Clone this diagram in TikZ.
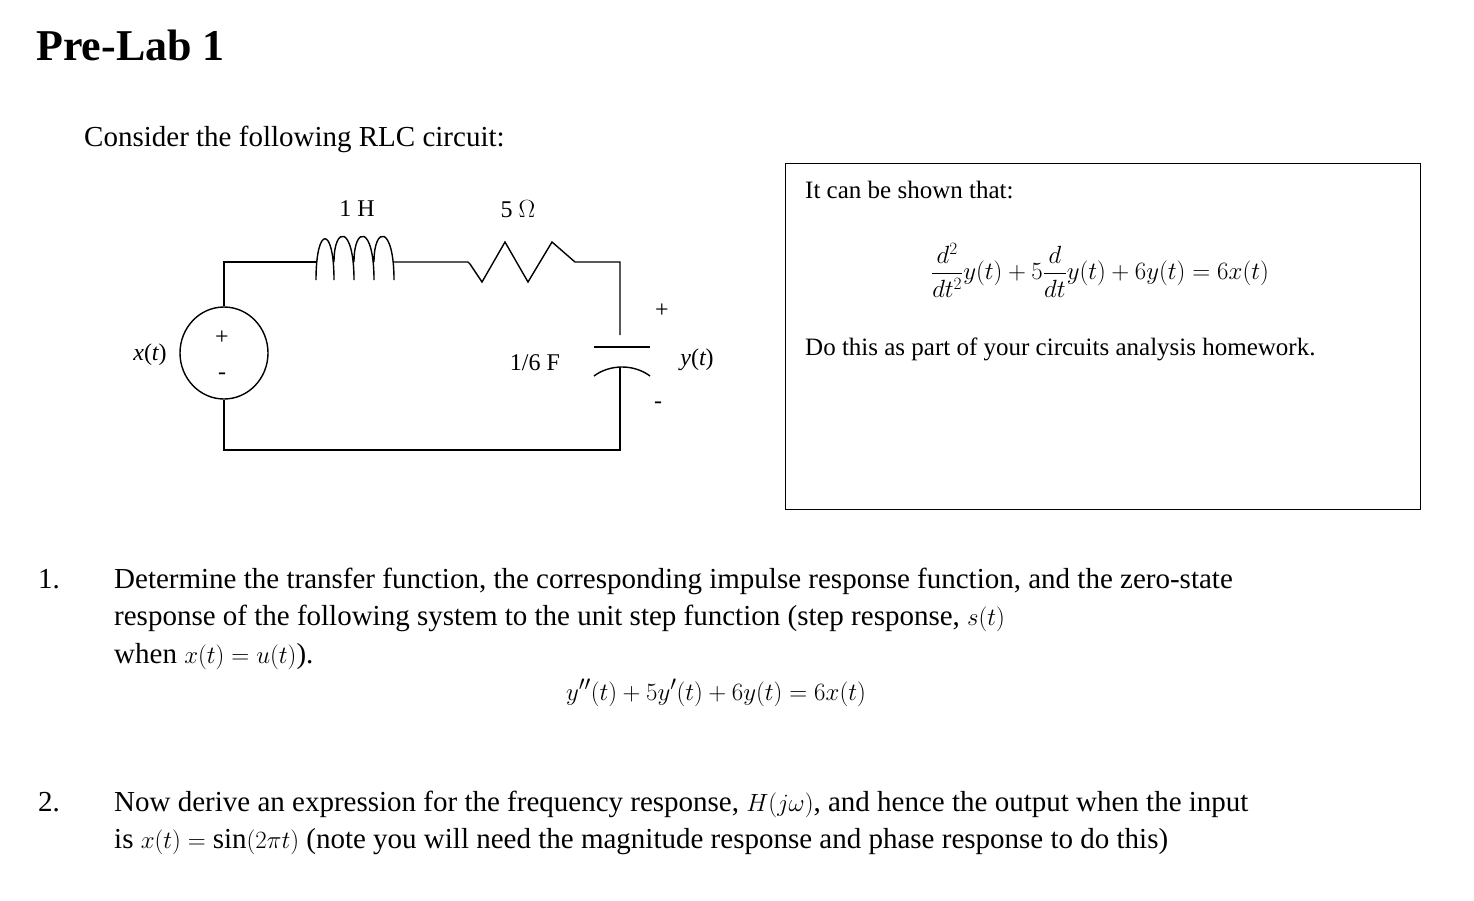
\documentclass[tikz,border=0pt]{standalone}
\usetikzlibrary{shapes.geometric}
\usepackage{amsmath}
\usepackage{fontspec}
\setmainfont{Liberation Serif}
\begin{document}
\begin{tikzpicture}[x=1pt,y=-1pt,
  txt/.style={anchor=base west,inner sep=0pt,font=\fontsize{29}{34}\selectfont},
  sm/.style={inner sep=0pt,font=\fontsize{24}{28}\selectfont},
  w/.style={line width=1.4pt}]
\useasboundingbox (0,0) rectangle (1474,900);
\node[anchor=base west,inner sep=0pt,font=\fontsize{44}{50}\selectfont\bfseries] (title) at (36,60) {Pre-Lab 1};
\node[txt] (cons) at (84,146) {Consider the following RLC circuit:};
% circuit
\node[draw,w,ellipse,minimum width=88,minimum height=92,inner sep=0pt] (src) at (224,353) {};
\node[sm] (sp) at (222,338) {+};
\node[sm] (sm) at (222,376) {-};
\node[sm] (xl) at (150,355) {\itshape x\upshape(\itshape t\upshape)};
\coordinate (tl) at (224,262);
\coordinate (bl) at (224,450);
\coordinate (br) at (620,450);
\coordinate (tr) at (620,262);
\draw[w] (src.north) -- (tl) -- (280,262) -- (316,262);
\draw[w] (316,280) .. controls (316,225) and (334,225) .. (334,280)
  (334,262) .. controls (334,225) and (354,225) .. (354,280)
  (354,262) .. controls (354,225) and (374,225) .. (374,280)
  (374,262) .. controls (374,225) and (394,225) .. (394,280);
\draw[w] (394,262) -- (468,262) -- (470,264) -- (482,282) -- (505,242) -- (528,282) -- (552,242) -- (575,262) -- (585,262) -- (tr) -- (620,335);
\draw[w] (594,347) -- (650,347);
\draw[w] (594,376) .. controls (610,364) and (634,364) .. (650,376);
\draw[w] (620,367) -- (br) -- (bl) -- (src.south);
\node[sm] (lh) at (357,209) {1 H};
\node[sm] (lr) at (518,209) {5 $\Omega$};
\node[sm] (lc) at (535,363) {1/6 F};
\node[sm] (yp) at (662,311) {+};
\node[sm] (ym) at (658,405) {-};
\node[sm] (yl) at (697,360) {\itshape y\upshape(\itshape t\upshape)};
% box
\node[draw,line width=0.8pt,minimum width=635,minimum height=346,anchor=north west,inner sep=0pt] (box) at (785,163) {};
\node[anchor=base west,inner sep=0pt,font=\fontsize{25}{30}\selectfont] (shown) at (805,198) {It can be shown that:};
\node[inner sep=0pt,font=\fontsize{25}{30}\selectfont] (eq1) at (1100,270) {$\dfrac{d^2}{dt^2}y(t)+5\dfrac{d}{dt}y(t)+6y(t)=6x(t)$};
\node[anchor=base west,inner sep=0pt,font=\fontsize{25}{30}\selectfont] (doit) at (805,355) {Do this as part of your circuits analysis homework.};
% questions
\node[txt] (n1) at (38,588) {1.};
\node[txt] (q1a) at (114,588) {Determine the transfer function, the corresponding impulse response function, and the zero-state};
\node[txt] (q1b) at (114,625) {response of the following system to the unit step function (step response, $s(t)$};
\node[txt] (q1c) at (114,663) {when $x(t)=u(t)$).};
\node[txt,anchor=base] (eq2) at (716,700) {$y''(t)+5y'(t)+6y(t)=6x(t)$};
\node[txt] (n2) at (38,811) {2.};
\node[txt] (q2a) at (114,811) {Now derive an expression for the frequency response, $H(j\omega)$, and hence the output when the input};
\node[txt] (q2b) at (114,848) {is $x(t)=\sin(2\pi t)$ (note you will need the magnitude response and phase response to do this)};
\end{tikzpicture}
\end{document}
